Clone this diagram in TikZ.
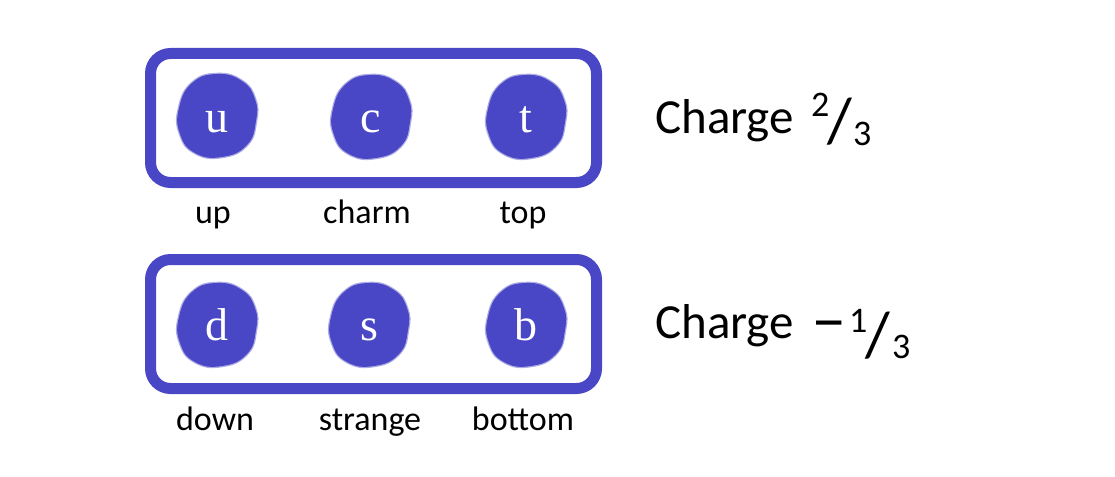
\documentclass[tikz,border=0pt]{standalone}
\usepackage{fontspec}
\setmainfont{Carlito}
\newfontfamily\ballfont{Liberation Serif}
\definecolor{quarkblue}{RGB}{73,71,197}
\tikzset{
  x=1pt, y=-1pt,
  groupbox/.style={draw=quarkblue, line width=11pt, rounded corners=20pt, minimum width=446pt, minimum height=129pt, inner sep=0pt},
  ballletter/.style={anchor=base, text=white, inner sep=0pt, font=\ballfont\fontsize{46}{50}\selectfont},
  namelabel/.style={anchor=base, inner sep=0pt, font=\fontsize{34}{40}\selectfont},
  chargetext/.style={anchor=base west, inner sep=0pt, font=\fontsize{49}{56}\selectfont},
  fracdigit/.style={anchor=base west, inner sep=0pt, font=\fontsize{36}{40}\selectfont},
  fracslash/.style={anchor=center, inner sep=0pt, font=\fontsize{64}{70}\selectfont},
}
\newcommand{\quarkblob}[2]{%
  \draw[quarkblue, line width=2.5pt, opacity=0.45, shift={(#1,#2)}] plot[smooth cycle, tension=0.8] coordinates {(0,-42) (25,-35) (38,-17) (39,5) (30,29) (5,41) (-22,37) (-37,18) (-38,-8) (-25,-33)};
  \fill[quarkblue, shift={(#1,#2)}] plot[smooth cycle, tension=0.8] coordinates {(0,-42) (25,-35) (38,-17) (39,5) (30,29) (5,41) (-22,37) (-37,18) (-38,-8) (-25,-33)};
}
\begin{document}
\begin{tikzpicture}
\useasboundingbox (0,0) rectangle (1115,476);
% group boxes
\node[groupbox] (upbox) at (373.5,118) {};
\node[groupbox] (downbox) at (373.5,324) {};
% blobs
\quarkblob{217}{116}
\quarkblob{371}{117}
\quarkblob{526}{117}
\quarkblob{217}{325}
\quarkblob{369}{325}
\quarkblob{526}{325}
% letters
\node[ballletter] (u) at (217,132) {u};
\node[ballletter] (c) at (371,132) {c};
\node[ballletter] (t) at (526,132) {t};
\node[ballletter] (d) at (217,340) {d};
\node[ballletter] (s) at (369,340) {s};
\node[ballletter] (b) at (526,340) {b};
% names
\node[namelabel] (up) at (213,223) {up};
\node[namelabel] (charm) at (367,223) {charm};
\node[namelabel] (top) at (523,223) {top};
\node[namelabel] (down) at (215,430) {down};
\node[namelabel] (strange) at (370,430) {strange};
\node[namelabel] (bottom) at (523,430) {bottom};
% charges
\node[chargetext] (ch1) at (655,133) {Charge};
\node[fracdigit] (n1) at (811,117) {2};
\node[fracslash] (sl1) at (840,121.5) {/};
\node[fracdigit] (d1) at (853,145) {3};
\node[chargetext] (ch2) at (655,338) {Charge};
\node[chargetext] (mi2) at (811,341) {\scalebox{1.45}[1.35]{–}};
\node[fracdigit] (n2) at (849,332) {1};
\node[fracslash] (sl2) at (878,335.5) {/};
\node[fracdigit] (d2) at (892,358) {3};
\end{tikzpicture}
\end{document}
